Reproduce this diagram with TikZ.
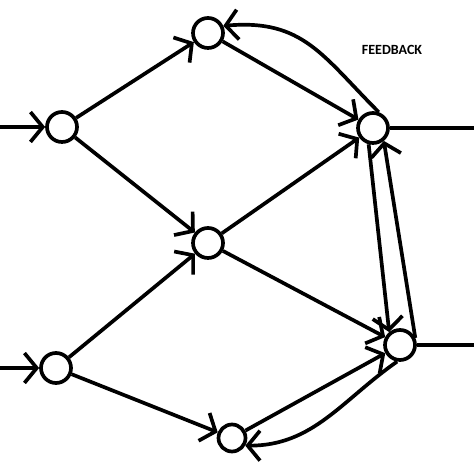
\documentclass[tikz,border=0pt]{standalone}
\usepackage{fontspec}
\setmainfont{Carlito}
\usepackage{tikz}
\usetikzlibrary{arrows.meta}

\begin{document}
\begin{tikzpicture}[
		neuron/.style={draw, circle, line width=2.1pt, minimum size=0.6cm, inner sep=0pt},
		link/.style={line width=2.1pt, -{Straight Barb[length=7pt,width=17pt,line width=2.1pt]}},
		plain/.style={line width=2.1pt}
	]
		\useasboundingbox (0,0) rectangle (9.48,9.48);

		% Neurons
		\node[neuron] (I1) at (1.24,6.94) {};
		\node[neuron] (I2) at (1.12,2.12) {};
		\node[neuron] (H1) at (4.16,8.82) {};
		\node[neuron] (H2) at (4.16,4.62) {};
		\node[neuron, minimum size=0.54cm] (H3) at (4.64,0.72) {};
		\node[neuron] (O1) at (7.46,6.92) {};
		\node[neuron] (O2) at (8.00,2.58) {};

		% Inputs and outputs
		\coordinate (inA) at (0,6.94);
		\coordinate (inB) at (0,2.12);
		\coordinate (outA) at (9.48,6.92);
		\coordinate (outB) at (9.48,2.58);
		\draw[link] (inA) -- (I1);
		\draw[link] (inB) -- (I2);
		\draw[plain] (O1) -- (outA);
		\draw[plain] (O2) -- (outB);

		% Forward links
		\draw[link] (I1) -- (H1);
		\draw[link] (I1) -- (H2);
		\draw[link] (I2) -- (H2);
		\draw[link] (I2) -- (H3);
		\draw[link] (H1) -- (O1);
		\draw[link] (H2) -- (O1);
		\draw[link] (H2) -- (O2);
		\draw[link] (H3) -- (O2);

		% Feedback links
		\draw[link] (O1.70) to[out=135,in=5,looseness=1.15] (H1.25);
		\draw[link] (O1.255) -- (O2.130);
		\draw[link] (O2.25) -- (O1.310);
		\draw[link] (O2.260) to[out=215,in=0] (H3.-30);

		% Label
		\node[font=\bfseries\fontsize{8}{9}\selectfont] (fb) at (7.84,8.49) {FEEDBACK};
	\end{tikzpicture}
\end{document}
